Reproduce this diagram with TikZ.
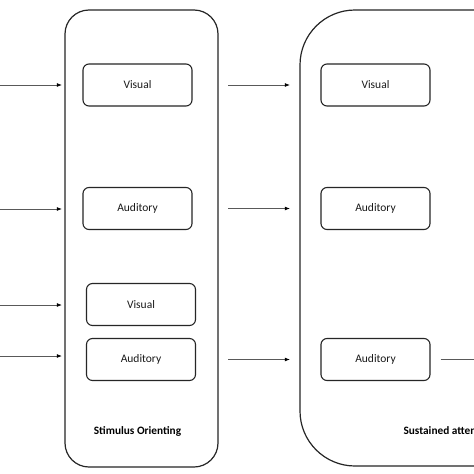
\documentclass[tikz,border=0pt]{standalone}
\usepackage{fontspec}
\setmainfont{Carlito}
\usetikzlibrary{arrows.meta,calc}
\begin{document}
\begin{tikzpicture}[x=1pt,y=-1pt,
  big/.style={draw=black!85,line width=1.2pt,inner sep=0pt},
  inbox/.style={draw=black!85,line width=1.1pt,rounded corners=6pt,minimum width=109pt,minimum height=42pt,inner sep=0pt,font=\fontsize{11.5}{13}\selectfont,text=black!90},
  lab/.style={font=\fontsize{11.3}{13}\selectfont\bfseries,text=black},
  arr/.style={draw=black!65,line width=0.7pt,-{Latex[length=5pt,width=4pt,black]}},
  ln/.style={draw=black!65,line width=0.7pt}]
\useasboundingbox (0,0) rectangle (474,474);
\clip (0,0) rectangle (474,474);
\fill[white] (0,0) rectangle (474,474);
% big containers
\draw[big,rounded corners=24pt] (65,10) rectangle (218,467);
\node[inner sep=0pt,minimum width=153pt,minimum height=457pt] (L) at (141.5,238.5) {};
\draw[big,rounded corners=55pt] (300,10) rectangle (560,466);
\node[inner sep=0pt,minimum width=260pt,minimum height=456pt] (R) at (430,238) {};
% inner boxes left
\node[inbox] (lv) at (137.5,85) {Visual};
\node[inbox] (la) at (137.5,208.5) {Auditory};
\node[inbox] (lv2) at (141,304.5) {Visual};
\node[inbox] (la2) at (141,359.5) {Auditory};
\node[lab] (ls) at (137.5,431) {Stimulus Orienting};
% inner boxes right
\node[inbox] (rv) at (375.5,85) {Visual};
\node[inbox] (ra) at (375.5,208.5) {Auditory};
\node[inbox] (ra3) at (375.5,359.5) {Auditory};
\node[lab,anchor=west] (rs) at (400,431) {Sustained attention};
% input arrows
\coordinate (i1) at (0,85);
\coordinate (i2) at (0,209);
\coordinate (i3) at (0,305);
\coordinate (i4) at (0,356);
\draw[arr,shorten >=3pt] (i1) -- (i1 -| L.west);
\draw[arr,shorten >=3pt] (i2) -- (i2 -| L.west);
\draw[arr,shorten >=3pt] (i3) -- (i3 -| L.west);
\draw[arr,shorten >=3pt] (i4) -- (i4 -| L.west);
% between stages
\draw[arr,shorten <=10pt,shorten >=10pt] (lv -| L.east) -- (rv -| R.west);
\draw[arr,shorten <=10pt,shorten >=10pt] (la -| L.east) -- (ra -| R.west);
\draw[arr,shorten <=10pt,shorten >=10pt] (la2 -| L.east) -- (ra3 -| R.west);
% output
\coordinate (o3) at (490,359.5);
\draw[ln,shorten <=10pt] (ra3.east) -- (o3);
\end{tikzpicture}
\end{document}
